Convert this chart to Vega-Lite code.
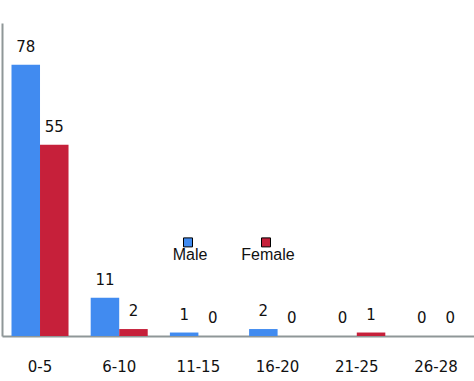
{
  "$schema": "https://vega.github.io/schema/vega-lite/v6.json",
  "width": 472,
  "height": 313,
  "autosize": "none",
  "padding": {"left": 2, "top": 23, "right": 0, "bottom": 45},
  "data": {
    "values": [
      {"age": "0-5", "sex": "Male", "count": 78},
      {"age": "0-5", "sex": "Female", "count": 55},
      {"age": "6-10", "sex": "Male", "count": 11},
      {"age": "6-10", "sex": "Female", "count": 2},
      {"age": "11-15", "sex": "Male", "count": 1},
      {"age": "11-15", "sex": "Female", "count": 0},
      {"age": "16-20", "sex": "Male", "count": 2},
      {"age": "16-20", "sex": "Female", "count": 0},
      {"age": "21-25", "sex": "Male", "count": 0},
      {"age": "21-25", "sex": "Female", "count": 1},
      {"age": "26-28", "sex": "Male", "count": 0},
      {"age": "26-28", "sex": "Female", "count": 0}
    ]
  },
  "encoding": {
    "x": {
      "field": "age",
      "type": "nominal",
      "sort": ["0-5", "6-10", "11-15", "16-20", "21-25", "26-28"],
      "scale": {"paddingInner": 0.28, "paddingOuter": 0.12},
      "axis": {
        "title": null,
        "labelAngle": 0,
        "ticks": false,
        "domainColor": "#8f9798",
        "domainWidth": 2,
        "labelFontSize": 15,
        "labelFont": "DejaVu Sans",
        "labelPadding": 23,
        "labelColor": "#111111"
      }
    },
    "xOffset": {"field": "sex", "type": "nominal", "sort": ["Male", "Female"]},
    "y": {
      "field": "count",
      "type": "quantitative",
      "scale": {"domain": [0, 90]},
      "axis": {
        "title": null,
        "labels": false,
        "ticks": false,
        "grid": false,
        "domainColor": "#8f9798",
        "domainWidth": 2
      }
    }
  },
  "layer": [
    {
      "mark": {"type": "bar"},
      "encoding": {
        "color": {
          "field": "sex",
          "type": "nominal",
          "scale": {"domain": ["Male", "Female"], "range": ["#418bf0", "#c6203a"]},
          "legend": {
            "orient": "none",
            "legendX": 178,
            "legendY": 224,
            "direction": "horizontal",
            "title": null,
            "symbolType": "M-1,-3.8L1,-3.8L1,-1.8L-1,-1.8Z",
            "symbolSize": 81,
            "symbolStrokeColor": "#000000",
            "symbolStrokeWidth": 1,
            "labelAlign": "center",
            "labelOffset": -6,
            "labelFontSize": 16,
            "labelFont": "Liberation Sans",
            "labelColor": "#111111",
            "columnPadding": 33
          }
        }
      }
    },
    {
      "mark": {"type": "text", "dy": -18, "fontSize": 15, "font": "DejaVu Sans", "color": "#111111"},
      "encoding": {"text": {"field": "count", "type": "quantitative"}}
    }
  ],
  "config": {"view": {"stroke": null}}
}
